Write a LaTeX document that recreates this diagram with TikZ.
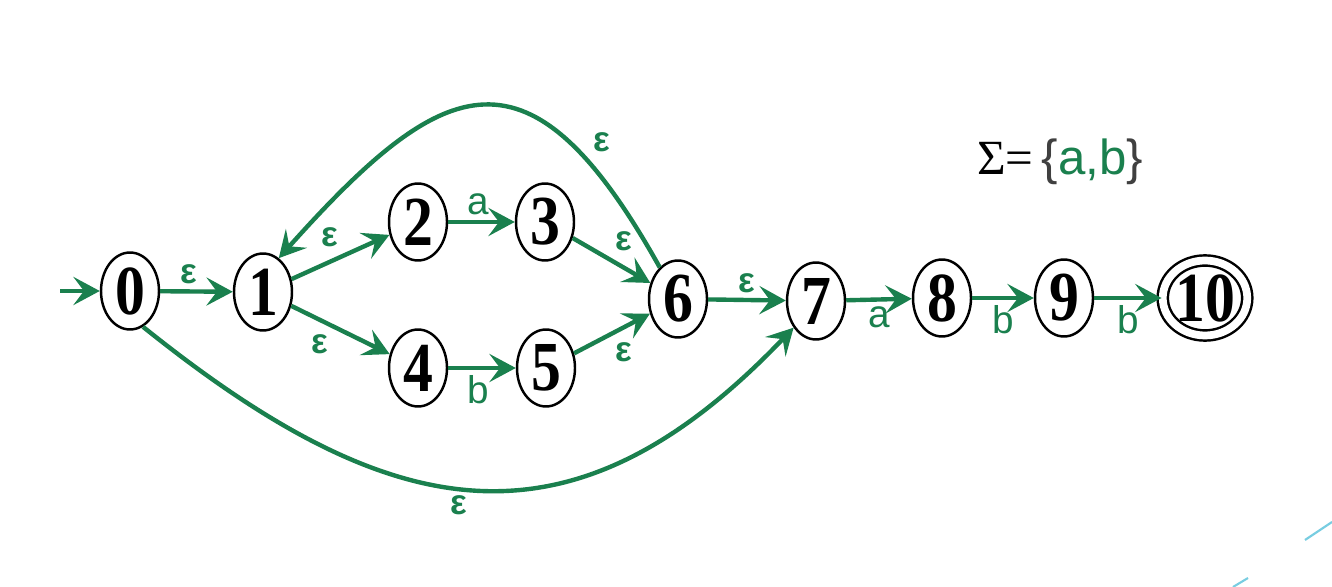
\documentclass[tikz,border=0pt]{standalone}
\usepackage{fontspec}
\setmainfont{Liberation Serif}
\setsansfont{Liberation Sans}
\newfontfamily\statefont{Liberation Serif}[FakeStretch=0.85]
\usetikzlibrary{shapes.geometric,arrows.meta}

\definecolor{edgegreen}{RGB}{26,128,78}
\definecolor{slidecyan}{RGB}{120,205,225}

\tikzset{
    state/.style={ellipse,draw,line width=1.4pt,inner sep=0pt,
        minimum width=1.16cm,minimum height=1.54cm,
        font=\statefont\bfseries\fontsize{40}{40}\selectfont},
    final/.style={state,double,double distance=4.4pt,
        minimum width=1.6cm,minimum height=1.5cm},
    edge/.style={draw=edgegreen,line width=2.5pt,
        -{Stealth[length=15pt,width=16pt,inset=6pt]}},
    lbl/.style={text=edgegreen,inner sep=3pt,
        font=\sffamily\fontsize{22}{22}\selectfont},
    eps/.style={text=edgegreen,inner sep=3pt,
        font=\sffamily\bfseries\fontsize{20}{20}\selectfont}
}

\begin{document}
\begin{tikzpicture}[x=0.02cm,y=-0.02cm]
        % Background
        \useasboundingbox[fill=white] (0,0) rectangle (1332,587);

        % States
        \node[state] (n0) at (130,291) {0};
        \node[state] (n1) at (263,292) {1};
        \node[state] (n2) at (418,222) {2};
        \node[state] (n3) at (545,222) {3};
        \node[state] (n4) at (418,368) {4};
        \node[state] (n5) at (546,368) {5};
        \node[state] (n6) at (678,299) {6};
        \node[state] (n7) at (816,301) {7};
        \node[state] (n8) at (942,298) {8};
        \node[state] (n9) at (1064,298) {9};
        \node[final] (n10) at (1205,298) {10};
        \coordinate (start) at (60,291);

        % Alphabet
        \node (alphabet) at (1060,162) {\fontsize{28}{28}\selectfont
            Σ=\,\sffamily{\color{black!75}\{}{\color{edgegreen}a,b}{\color{black!75}\}}};

        % Transitions
        \draw[edge] (start) -- (n0);
        \draw[edge] (n0) -- node[eps,above,pos=0.4] {ε} (n1);
        \draw[edge] (n1) -- node[eps,above left,pos=0.55] {ε} (n2);
        \draw[edge] (n1) -- node[eps,below left,pos=0.45] {ε} (n4);
        \draw[edge] (n2) -- node[lbl,above,pos=0.45] {a} (n3);
        \draw[edge] (n4) -- node[lbl,below,pos=0.45] {b} (n5);
        \draw[edge] (n3) -- node[eps,above right,pos=0.45] {ε} (n6);
        \draw[edge] (n5) -- node[eps,below right,pos=0.45] {ε} (n6);
        \draw[edge] (n6) -- node[eps,above] {ε} (n7);
        \draw[edge] (n7) -- node[lbl,below] {a} (n8);
        \draw[edge] (n8) -- node[lbl,below] {b} (n9);
        \draw[edge] (n9) -- node[lbl,below] {b} (n10);
        \draw[edge] (n6.120) .. controls (530,35) and (445,72) .. node[eps,above right,pos=0.2] {ε} (n1.65);
        \draw[edge] (n0.290) .. controls (390,525) and (570,562) .. node[eps,below,pos=0.47] {ε} (n7.230);

        % Slide corner
        \draw[slidecyan,line width=1.2pt] (1305,540) -- (1332,522);
        \draw[slidecyan,line width=1.2pt] (1233,587) -- (1248,578);

    \end{tikzpicture}
\end{document}
